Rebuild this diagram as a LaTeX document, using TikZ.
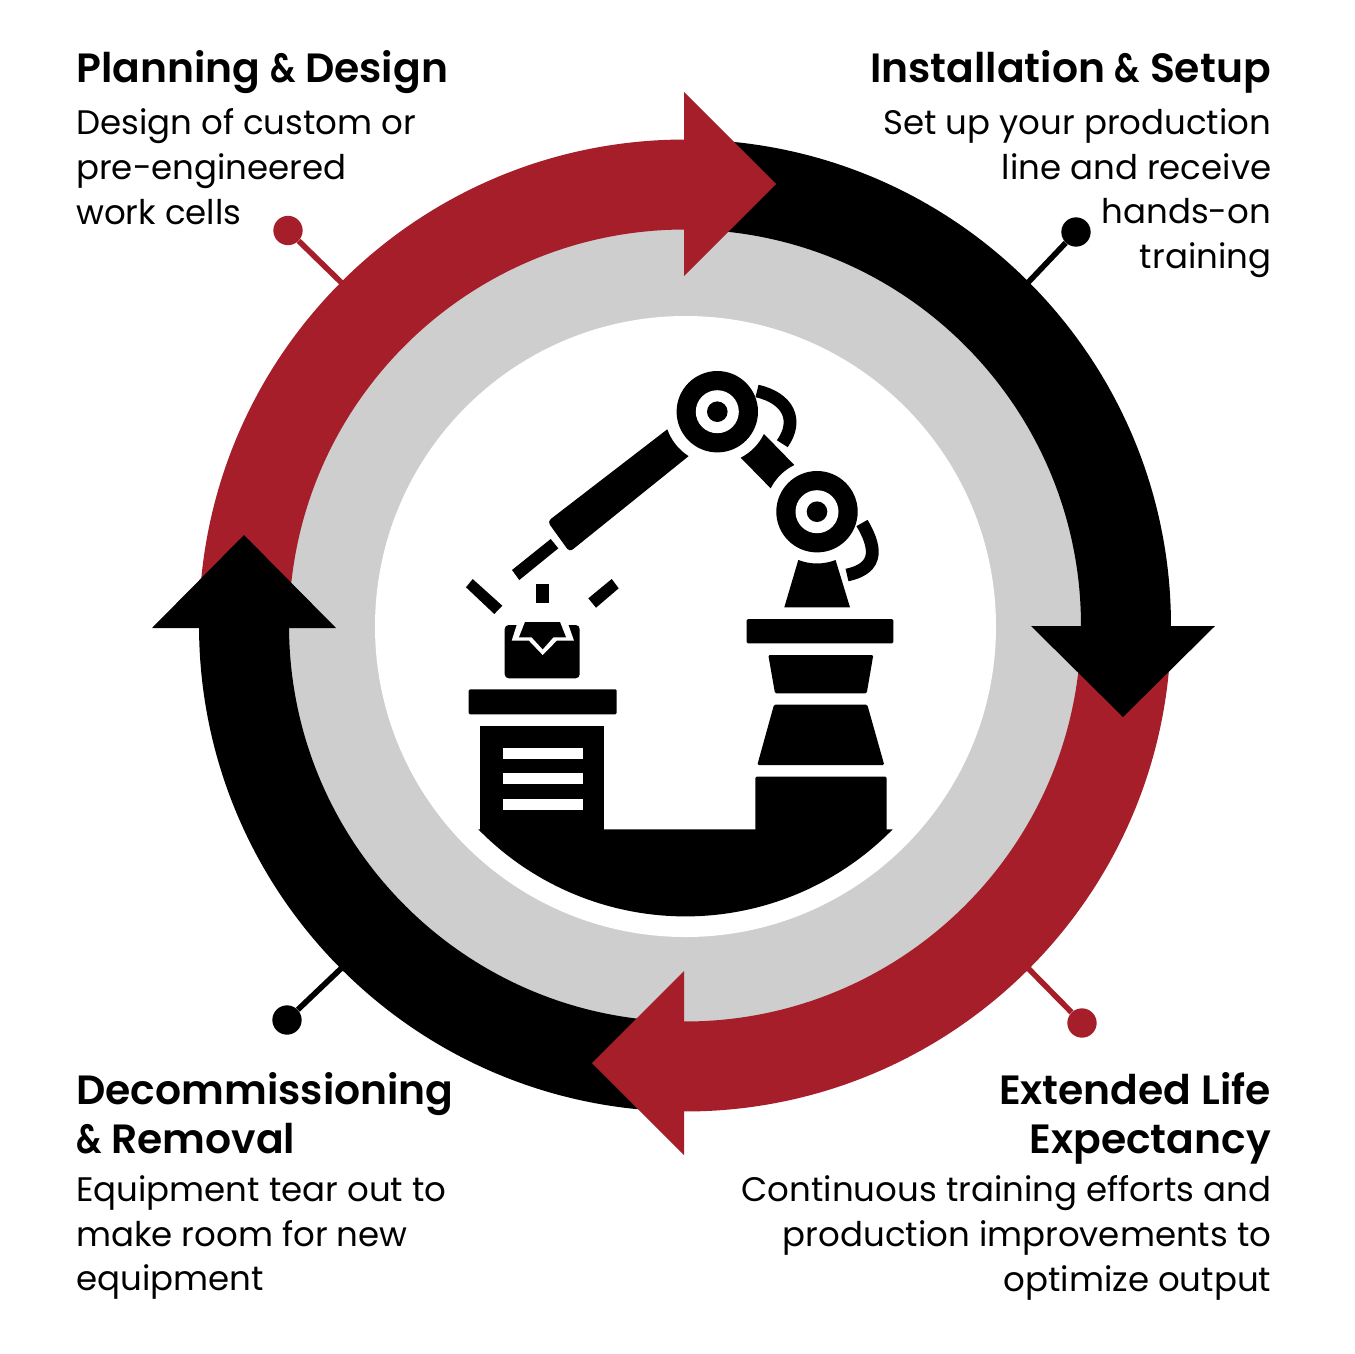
\documentclass[tikz,border=0pt]{standalone}
\usepackage{fontspec}
\usepackage{graphicx}
\setmainfont{Poppins}
\newfontfamily\headfont{Poppins SemiBold}
\usetikzlibrary{positioning}
\definecolor{cellred}{HTML}{A51E29}
\definecolor{ringgray}{HTML}{CECECE}
\tikzset{
  headtext/.style={inner sep=0pt,font=\headfont\fontsize{30.65}{37}\selectfont},
  bodytext/.style={inner sep=0pt,font=\fontsize{25.5}{33.5}\selectfont},
  pin/.style={circle,inner sep=0pt,minimum size=22pt,fill=#1},
  pinline/.style={line width=4.2pt,draw=#1},
  plate/.style={rounded corners=1pt},
}
\newcommand{\ringshaft}[2]{%
  \fill[#1] (#2+2:396) arc[start angle=#2+2,end angle=#2+90.3,radius=396]
    -- (#2+90.3:486) arc[start angle=#2+90.3,end angle=#2+2,radius=486] -- cycle;}
\newcommand{\amp}{\scalebox{0.8}[1]{\&}}
\begin{document}
\begin{tikzpicture}[x=0.75pt,y=0.75pt,yscale=-1]
\useasboundingbox (0,0) rectangle (1354,1354);
\fill[white] (0,0) rectangle (1354,1354);

% Ring
\fill[ringgray] (685.5,626.5) circle[radius=400];
\fill[white] (685.5,626.5) circle[radius=310.5];

% Pins
\node[pin=cellred] (pinPlan) at (288,230.5) {};
\node[pin=black] (pinSetup) at (1076,232) {};
\node[pin=cellred] (pinLife) at (1082,1023) {};
\node[pin=black] (pinRemove) at (287,1020) {};
\coordinate (ringPlan) at (350,291);
\coordinate (ringSetup) at (1020,291);
\coordinate (ringLife) at (1020,960);
\coordinate (ringRemove) at (350,960);
\draw[pinline=cellred] (pinPlan) -- (ringPlan);
\draw[pinline=black] (pinSetup) -- (ringSetup);
\draw[pinline=cellred] (pinLife) -- (ringLife);
\draw[pinline=black] (pinRemove) -- (ringRemove);

% Shafts of the four arrows
\begin{scope}[shift={(685,625.5)}]
  \ringshaft{cellred}{180}
  \ringshaft{black}{270}
  \ringshaft{cellred}{0}
  \ringshaft{black}{90}
\end{scope}

% Heads
\fill[cellred] (684,92) -- (776,184) -- (684,276) -- cycle;
\fill[black] (1031,626) -- (1215,626) -- (1123,717) -- cycle;
\fill[cellred] (684,971) -- (592,1063) -- (684,1155) -- cycle;
\fill[black] (152,628) -- (244,535) -- (336,628) -- cycle;

% Robot arm
\fill (667.3,429.3) arc[start angle=160.6,end angle=122.5,radius=52.5]
  [rounded corners=3] -- (569.5,552) -- (547.5,521.5) [sharp corners] -- cycle;
\fill (550.7,539) -- (558.3,548.3) -- (519.3,580) -- (512,570) -- cycle;
\fill (764,434) -- (794.3,465) arc[start angle=244,end angle=206.8,radius=52]
  -- (740.7,457.7) arc[start angle=63,end angle=25.5,radius=52] -- cycle;
\foreach \cx/\cy in {717.3/411.7,817/511.7} {
  \fill (\cx,\cy) circle[radius=40.7];
  \fill[white] (\cx,\cy) circle[radius=21.5];
  \fill (\cx,\cy) circle[radius=10.3];
}
\draw[line width=9.6pt] (757,391) .. controls (788,398) and (799,420) .. (782.3,443.7);
\draw[line width=9.6pt] (862,523) .. controls (875,545) and (881,568) .. (847,575);

% Robot stand
\fill (784.3,607.3) -- (798.3,560) arc[start angle=111,end angle=69,radius=52] -- (850,607.3) -- cycle;
\fill[plate] (746.7,619) rectangle (893.3,643.3);
\fill[plate] (768.3,655) -- (873.3,655) -- (866.7,693.3) -- (775,693.3) -- cycle;
\fill[plate] (774,704.7) -- (867.3,704.7) -- (884.3,765) -- (757.3,765) -- cycle;
\fill[plate] (755.3,776.7) -- (886.7,776.7) -- (886.7,835) -- (755.3,835) -- cycle;

% Floor and bench
\fill (478.3,829.3) arc[start angle=135.6,end angle=44.4,radius=290] -- cycle;
\fill (480,725.7) -- (604.3,725.7) -- (604.3,830.5) -- (480,830.5) -- cycle;
\foreach \sy in {747.7,773.3,799} {
  \fill[white] (502.7,\sy) rectangle (582.7,\sy+11);
}
\fill[plate] (468.7,689.3) rectangle (616.7,714.3);

% Sparks
\fill (472.7,579) -- (502.3,605.7) -- (494.3,614) -- (466,587.3) -- cycle;
\fill (536,584) rectangle (548.7,603.3);
\fill (611.7,579) -- (618.7,588.3) -- (596,607.7) -- (588.3,598.3) -- cycle;

% Work piece
\fill[rounded corners=3] (504.7,625) rectangle (579.7,678.3);
\fill[white] (518.3,620) -- (511.7,640.7) -- (529,640.7) -- (542.7,655) -- (556.7,640.7) -- (574,640.7) -- (566.7,620) -- cycle;
\fill (525,622) -- (560,622) -- (566,637.3) -- (553.3,637.3) -- (542.7,649.3) -- (531.7,637.3) -- (519,637.3) -- cycle;

% Texts
\node[headtext,anchor=base west] (titlePlan) at (76,82) {Planning \amp{} Design};
\node[bodytext,anchor=north west,align=left] (textPlan) at (76,108.5)
  {Design of custom or\\pre-engineered\\work cells};
\node[headtext,anchor=base east] (titleSetup) at (1271,82) {Installation \amp{} Setup};
\node[bodytext,anchor=north east,align=right] (textSetup) at (1271.5,108.5)
  {Set up your production\\line and receive\\hands-on\\training};
\node[headtext,anchor=north west,align=left] (titleRemove) at (76,1072)
  {Decommissioning\\\amp{} Removal};
\node[bodytext,anchor=north west,align=left] (textRemove) at (76,1175.5)
  {Equipment tear out to\\make room for new\\equipment};
\node[headtext,anchor=north east,align=right] (titleLife) at (1271,1072)
  {Extended Life\\Expectancy};
\node[bodytext,anchor=north east,align=right] (textLife) at (1271.5,1175.5)
  {Continuous training efforts and\\production improvements to\\optimize output};
\end{tikzpicture}
\end{document}
